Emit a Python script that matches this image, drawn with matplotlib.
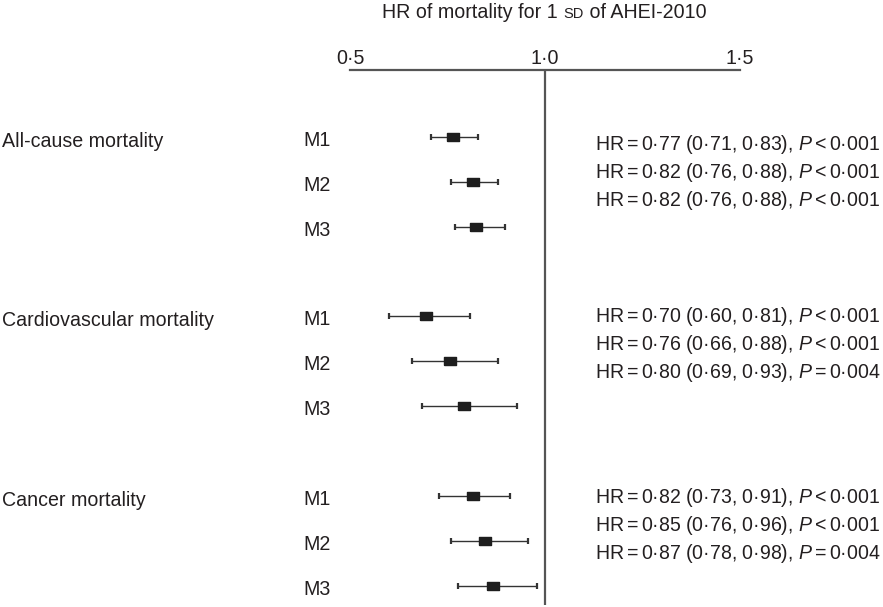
import matplotlib
matplotlib.use("Agg")
import matplotlib.pyplot as plt
import matplotlib.transforms as mtrans
from matplotlib.offsetbox import TextArea, HPacker, AnchoredOffsetbox
import numpy as np

plt.rcParams['font.family'] = ['Liberation Sans', 'DejaVu Sans']
plt.rcParams['mathtext.fontset'] = 'custom'
plt.rcParams['mathtext.rm'] = 'Liberation Sans'
plt.rcParams['mathtext.it'] = 'Liberation Sans:italic'

# ---------------- data ----------------
outcomes = ["All-cause mortality", "Cardiovascular mortality", "Cancer mortality"]
models = ["M1", "M2", "M3"]

# HR estimates and 95% CI as drawn
hr_allcause = [0.763, 0.815, 0.823]
lo_allcause = [0.708, 0.759, 0.768]
hi_allcause = [0.828, 0.879, 0.897]

hr_cardio = [0.695, 0.756, 0.793]
lo_cardio = [0.600, 0.660, 0.685]
hi_cardio = [0.807, 0.879, 0.927]

hr_cancer = [0.815, 0.845, 0.867]
lo_cancer = [0.728, 0.759, 0.776]
hi_cancer = [0.910, 0.957, 0.979]

# text annotations
txt_allcause = [("0·77", "0·71", "0·83", "<", "0·001"),
                ("0·82", "0·76", "0·88", "<", "0·001"),
                ("0·82", "0·76", "0·88", "<", "0·001")]
txt_cardio = [("0·70", "0·60", "0·81", "<", "0·001"),
              ("0·76", "0·66", "0·88", "<", "0·001"),
              ("0·80", "0·69", "0·93", "=", "0·004")]
txt_cancer = [("0·82", "0·73", "0·91", "<", "0·001"),
              ("0·85", "0·76", "0·96", "<", "0·001"),
              ("0·87", "0·78", "0·98", "=", "0·004")]

xticks = [0.5, 1.0, 1.5]
xticklabels = ["0·5", "1·0", "1·5"]

# ---------------- layout ----------------
W, H = 883, 607
FS = 14.1
FS_R = 14.05
TXT = '#231f20'
LINE = '#555555'

fig = plt.figure(figsize=(W / 100, H / 100), dpi=100)
ax_top_px, ax_bot_px = 70, 605
row0_px = 137
step_px = 44.87
ax = fig.add_axes([350 / W, 1 - ax_bot_px / H, 390 / W, (ax_bot_px - ax_top_px) / H])
ax.set_xlim(0.5, 1.5)
ax.set_ylim((ax_bot_px - row0_px) / step_px, (ax_top_px - row0_px) / step_px)

def px(v):
    return v / step_px

for s in ['left', 'right', 'bottom']:
    ax.spines[s].set_visible(False)
ax.spines['top'].set_color(LINE)
ax.spines['top'].set_linewidth(1.6)
ax.xaxis.tick_top()
ax.set_xticks(xticks)
ax.set_xticklabels(xticklabels, fontsize=FS, color=TXT)
ax.tick_params(axis='x', length=0, pad=1.5)
ax.set_yticks([])
ax.axvline(1.0, color=LINE, lw=1.6, zorder=1)

groups = [(hr_allcause, lo_allcause, hi_allcause, txt_allcause),
          (hr_cardio, lo_cardio, hi_cardio, txt_cardio),
          (hr_cancer, lo_cancer, hi_cancer, txt_cancer)]
text_offsets_px = [6, -1, 0]

rect = [(-1, -0.72), (1, -0.72), (1, 0.72), (-1, 0.72), (-1, -0.72)]
blend = mtrans.blended_transform_factory(fig.transFigure, ax.transData)

for g, (hr, lo, hi, txt) in enumerate(groups):
    start = 4 * g
    rows = np.arange(start, start + 3)
    hr = np.array(hr); lo = np.array(lo); hi = np.array(hi)
    ax.errorbar(hr, rows, xerr=[hr - lo, hi - hr], fmt='none', ecolor='#333333',
                elinewidth=1.0, capsize=1.9, capthick=1.6, zorder=2)
    ax.plot(hr, rows, linestyle='none', marker=rect, markersize=8,
            color='#1e1e1e', zorder=3)
    # group label
    fig.text(2 / W, start + px(10), outcomes[g], transform=blend,
             fontsize=FS, color=TXT, ha='left', va='baseline')
    for k, r in enumerate(rows):
        fig.text(331 / W, r + px(9), models[k], transform=blend,
                 fontsize=FS, color=TXT, ha='right', va='baseline')
    for k, (e, l, h, op, p) in enumerate(txt):
        y = start + px(text_offsets_px[g] + 28 * k + 7)
        s = r"HR$=$" + e + " (" + l + ", " + h + r"), $\mathit{P}" + op + "$" + p
        fig.text(595 / W, y, s, transform=blend, fontsize=FS_R, color=TXT,
                 ha='left', va='baseline')

# title with small caps "SD"
parts = [TextArea("HR of mortality for 1 ", textprops=dict(fontsize=FS, color=TXT)),
         TextArea("SD", textprops=dict(fontsize=10.5, color=TXT)),
         TextArea(" of AHEI-2010", textprops=dict(fontsize=FS, color=TXT))]
box = HPacker(children=parts, align="baseline", pad=0, sep=0)
anch = AnchoredOffsetbox(loc='center', child=box, pad=0, frameon=False,
                         bbox_to_anchor=(544 / W, 1 - 13 / H),
                         bbox_transform=fig.transFigure, borderpad=0)
fig.add_artist(anch)

fig.savefig("out.png", dpi=100)
